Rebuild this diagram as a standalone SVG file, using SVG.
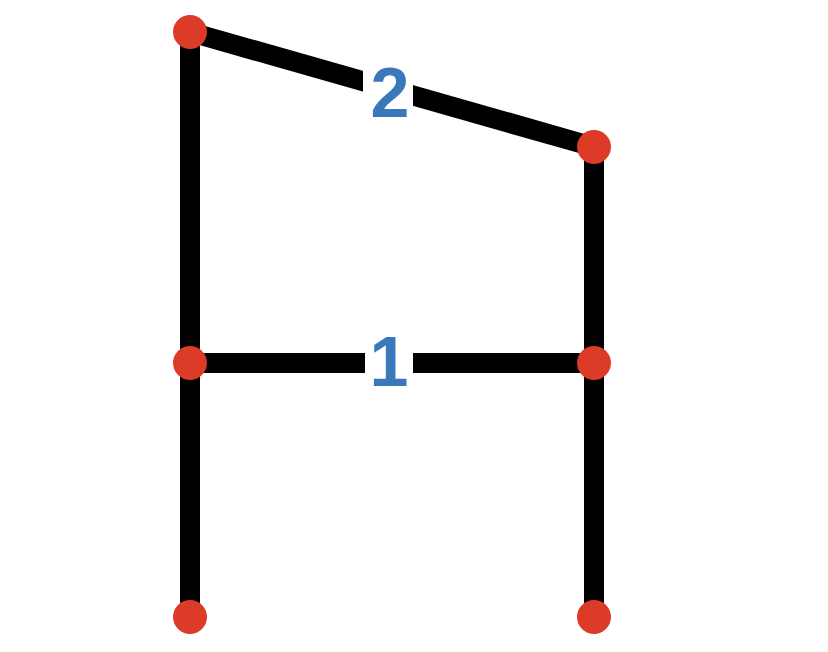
<svg xmlns="http://www.w3.org/2000/svg" width="828" height="652" viewBox="0 0 828 652">
<style>
.e{stroke:#000;stroke-width:20;fill:none}
.n{fill:#db3b27}
.bg{fill:#fff}
.l{font-family:"Liberation Sans",Arial,sans-serif;font-weight:bold;font-size:70px;fill:#3a77bb;text-anchor:middle}
</style>
<rect width="828" height="652" fill="#fff"/>
<g id="connectors">
<line class="e" x1="190" y1="32" x2="190" y2="617"/>
<line class="e" x1="594" y1="147" x2="594" y2="617"/>
<line class="e" x1="190" y1="32" x2="594" y2="147"/>
<line class="e" x1="190" y1="363" x2="594" y2="363"/>
<rect class="bg" x="363" y="60" width="50" height="66"/>
<rect class="bg" x="365" y="330" width="48" height="66"/>
<text class="l" x="390" y="117">2</text>
<text class="l" x="389" y="386">1</text>
</g>
<g id="n1"><circle class="n" cx="190" cy="32" r="17"/></g>
<g id="n2"><circle class="n" cx="594" cy="147" r="17"/></g>
<g id="n3"><circle class="n" cx="190" cy="363" r="17"/></g>
<g id="n4"><circle class="n" cx="594" cy="363" r="17"/></g>
<g id="n5"><circle class="n" cx="190" cy="617" r="17"/></g>
<g id="n6"><circle class="n" cx="594" cy="617" r="17"/></g>
</svg>
